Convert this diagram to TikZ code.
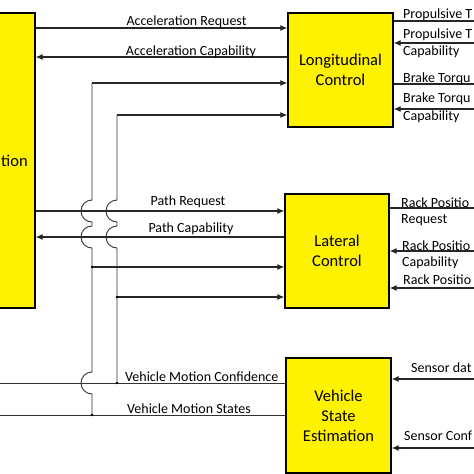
\documentclass[tikz,border=0pt]{standalone}
\usepackage{fontspec}
\setmainfont{Carlito}
\usetikzlibrary{arrows.meta}
\begin{document}
\begin{tikzpicture}[x=1pt,y=-1pt,
 box/.style={draw=black, line width=1.3pt, fill=yellow, font=\fontsize{16.5}{20}\selectfont, align=center, inner sep=0pt},
 lbl/.style={font=\fontsize{14}{17}\selectfont, inner sep=0pt, text=black},
 sig/.style={line width=1.2pt, draw=black!85},
 wire/.style={line width=0.9pt, draw=black!80},
 arr/.style={-{Latex[length=7pt,width=6pt]}},
 dot/.style={circle, fill=black, inner sep=0pt, minimum size=2.8pt}]
\useasboundingbox (0,0) rectangle (474,474);
\fill[white] (0,0) rectangle (474,474);

% boxes
\node[box, minimum width=60pt, minimum height=295pt] (left) at (5,160.5) {};
\node[lbl, anchor=base west, font=\fontsize{16.5}{20}\selectfont] (lefttxt) at (1,166) {tion};
\node[box, minimum width=105pt, minimum height=114pt] (long) at (340.5,70) {Longitudinal\\Control};
\node[box, minimum width=104pt, minimum height=114pt] (lat) at (337,251) {Lateral\\Control};
\node[box, minimum width=105pt, minimum height=115pt] (vse) at (338.5,415.5) {Vehicle\\State\\Estimation};

% coordinates
\coordinate (ja) at (92,415);
\coordinate (jb) at (117,383);
\coordinate (jc) at (92,267);
\coordinate (jd) at (117,297);
\coordinate (ta) at (92,83);
\coordinate (tb) at (117,115);
\coordinate (lw1) at (0,383);
\coordinate (lw2) at (0,415);
\coordinate (r21) at (474,21);
\coordinate (r43) at (474,43);
\coordinate (r84) at (474,84);
\coordinate (r109) at (474,109);
\coordinate (r208) at (474,208);
\coordinate (r251) at (474,251);
\coordinate (r288) at (474,288);
\coordinate (r379) at (474,379);
\coordinate (r448) at (474,448);

% left-side connectors
\draw[sig,arr] (left.east |- 0,28) -- (long.west |- 0,28);
\draw[sig,arr] (long.west |- 0,57) -- (left.east |- 0,57);
\draw[sig,arr] (left.east |- 0,211) -- (lat.west |- 0,211);
\draw[sig,arr] (lat.west |- 0,237) -- (left.east |- 0,237);

\draw[wire] (vse.west |- jb) -- (lw1);
\draw[wire] (vse.west |- ja) -- (lw2);

\draw[wire] (ja) -- (92,394) arc[start angle=270,end angle=90,radius=11pt]
  -- (92,248) arc[start angle=270,end angle=90,radius=11pt]
  -- (92,222) arc[start angle=270,end angle=90,radius=11pt]
  -- (ta);
\draw[sig,arr] (ta) -- (long.west |- ta);

\draw[wire] (jb) -- (117,248) arc[start angle=270,end angle=90,radius=11pt]
  -- (117,222) arc[start angle=270,end angle=90,radius=11pt]
  -- (tb);
\draw[sig,arr] (tb) -- (long.west |- tb);

\draw[sig,arr] (jc) -- (lat.west |- jc);
\draw[sig,arr] (jd) -- (lat.west |- jd);

\node[dot] (da) at (ja) {};
\node[dot] (db) at (jb) {};
\node[dot] (dc) at (jc) {};
\node[dot] (dd) at (jd) {};

% right-side connectors
\draw[sig] (long.east |- r21) -- (r21);
\draw[sig,arr] (r43) -- (long.east |- r43);
\draw[sig] (long.east |- r84) -- (r84);
\draw[sig,arr] (r109) -- (long.east |- r109);
\draw[sig] (lat.east |- r208) -- (r208);
\draw[sig,arr] (r251) -- (lat.east |- r251);
\draw[sig,arr] (r288) -- (lat.east |- r288);
\draw[sig,arr] (r379) -- (vse.east |- r379);
\draw[sig,arr] (r448) -- (vse.east |- r448);

% labels
\node[lbl, anchor=base] (t1) at (186.5,25) {Acceleration Request};
\node[lbl, anchor=base] (t2) at (191,55) {Acceleration Capability};
\node[lbl, anchor=base] (t3) at (188,205) {Path Request};
\node[lbl, anchor=base] (t4) at (191,232) {Path Capability};
\node[lbl, anchor=base west] (t5) at (125,381) {Vehicle Motion Confidence};
\node[lbl, anchor=base west] (t6) at (127,413) {Vehicle Motion States};

\node[lbl, anchor=base west] (p1) at (403,18) {Propulsive T};
\node[lbl, anchor=base west] (p2) at (403,38) {Propulsive T};
\node[lbl, anchor=base west] (p3) at (403,55) {Capability};
\node[lbl, anchor=base west] (b1) at (403,82) {Brake Torqu};
\node[lbl, anchor=base west] (b2) at (403,102) {Brake Torqu};
\node[lbl, anchor=base west] (b3) at (403,120) {Capability};
\node[lbl, anchor=base west] (k1) at (401,207) {Rack Positio};
\node[lbl, anchor=base west] (k2) at (401,223) {Request};
\node[lbl, anchor=base west] (k3) at (402,250) {Rack Positio};
\node[lbl, anchor=base west] (k4) at (402,266) {Capability};
\node[lbl, anchor=base west] (k5) at (403,284) {Rack Positio};
\node[lbl, anchor=base west] (s1) at (411,372) {Sensor dat};
\node[lbl, anchor=base west] (s2) at (404,440) {Sensor Conf};
\end{tikzpicture}
\end{document}
